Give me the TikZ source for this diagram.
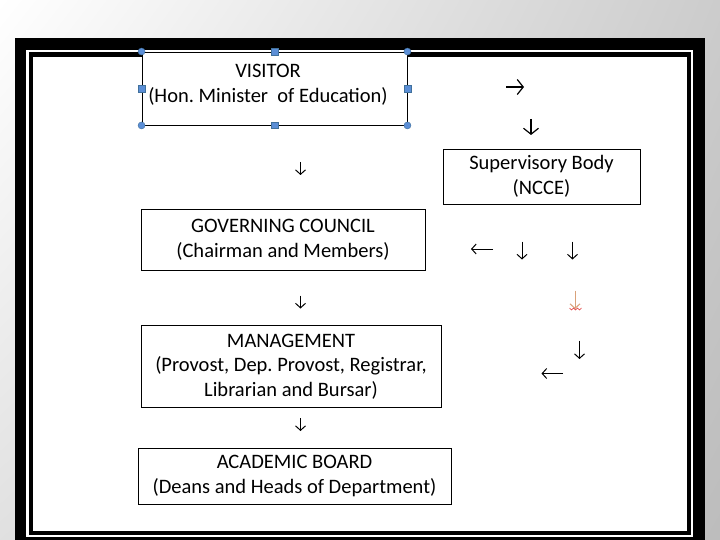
\documentclass[tikz,border=0pt]{standalone}
\usepackage{fontspec}
\setmainfont{Carlito}
\usetikzlibrary{arrows.meta,shadings}
\definecolor{handle}{HTML}{5B8ED6}
\definecolor{handleline}{HTML}{41719C}
\definecolor{squiggle}{HTML}{E03030}
\definecolor{shaft}{HTML}{D9A27A}
\tikzset{
  box/.style={draw, line width=0.9pt, fill=white, inner sep=0pt, align=center,
    font=\fontsize{20.5}{24.5}\selectfont},
  dn/.style={-{Straight Barb[length=4.5pt,width=10pt,line width=1pt]}, line width=1pt},
  big/.style={-{Straight Barb[length=6pt,width=15pt,line width=1.2pt]}, line width=1.2pt},
  corner/.style={circle, fill=handle, draw=handleline, line width=0.4pt, inner sep=0pt, minimum size=7pt},
  side/.style={rectangle, fill=handle, draw=handleline, line width=0.4pt, inner sep=0pt, minimum size=6.5pt}
}
\begin{document}
\begin{tikzpicture}[x=1pt,y=-1pt]
\useasboundingbox (0,0) rectangle (720,540);
% background and double frame
\shade[upper left=white, upper right=black!20, lower left=black!12, lower right=black!26] (0,0) rectangle (720,540);
\fill[black] (15,38) rectangle (705,540);
\fill[white] (26,50) rectangle (693,537);
\fill[black] (28.5,52.5) rectangle (691,535);
\fill[white] (32.5,57) rectangle (687,531);

% boxes
\node[box, minimum width=265pt, minimum height=73pt] (visitor) at (274.5,88.5) {};
\node[font=\fontsize{20.5}{24.5}\selectfont, align=center, inner sep=0pt] (visitortext) at (268,85) {VISITOR\\(Hon.\ Minister\ \ of Education)};
\node[box, minimum width=197pt, minimum height=55pt] (ncce) at (541.5,176.5) {Supervisory Body\\(NCCE)};
\node[box, minimum width=284pt, minimum height=61pt] (council) at (283,240) {GOVERNING COUNCIL\\(Chairman and Members)};
\node[box, minimum width=300pt, minimum height=82pt] (management) at (291,366.5) {MANAGEMENT\\(Provost, Dep.\ Provost, Registrar,\\Librarian and Bursar)};
\node[box, minimum width=313pt, minimum height=56pt] (board) at (294.5,476) {ACADEMIC BOARD\\(Deans and Heads of Department)};

% selection handles on the visitor box
\foreach \c in {north west,north east,south west,south east}
  \node[corner] at (visitor.\c) {};
\foreach \s in {north,south,west,east}
  \node[side] at (visitor.\s) {};

% arrows in the left column
\draw[dn] (300.5,162) -- (300.5,175);
\draw[dn] (300.5,295.5) -- (300.5,308.5);
\draw[dn] (300.5,418) -- (300.5,431);

% arrows on the right
\draw[big] (506,87) -- (524,87);
\draw[big] (531,119) -- (531,135);
\draw[dn] (493,249) -- (471,249);
\draw[dn] (522,241.5) -- (522,259.5);
\draw[dn] (572.5,241.5) -- (572.5,259.5);
\draw[dn, shaft] (575,290.5) -- (575,309);
\draw[squiggle, line width=0.6pt] (569.5,308) -- ++(2,2) -- ++(2,-2) -- ++(2,2) -- ++(2,-2) -- ++(2,2) -- ++(2,-2);
\draw[dn] (579.5,340.5) -- (579.5,359);
\draw[dn] (563,373.5) -- (541.5,373.5);
\end{tikzpicture}
\end{document}
